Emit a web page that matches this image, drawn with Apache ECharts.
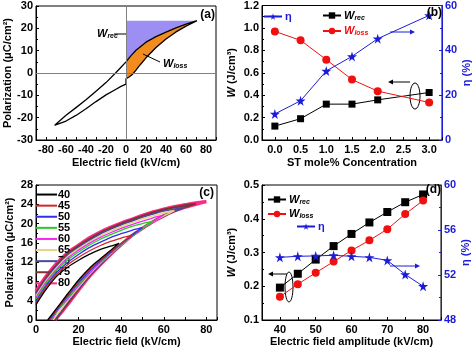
<!DOCTYPE html>
<html><head><meta charset="utf-8">
<script src="https://cdn.jsdelivr.net/npm/echarts@6/dist/echarts.min.js"></script>
<style>html,body{margin:0;padding:0;background:#fff}#c{width:474px;height:351px}</style>
</head><body><div id="c"></div>
<script>
// ---------- Panel (a): P-E loop ----------
const aUpperE = [71,60,50,40,30,20,10,5,0,-5,-10,-20,-30,-40,-50,-60,-71];
const aUpperP = [23.4,21.9,20.2,18.3,16.3,13.8,10.2,7.8,5.0,2.6,0.2,-4.3,-8.2,-12.0,-15.5,-18.9,-23.3];
const aLowerNegE = [-71,-60,-50,-40,-30,-20,-10,-5,0];
const aLowerNegP = [-23.3,-21.5,-19.0,-16.0,-12.8,-9.8,-7.3,-6.0,-5.0];
const aLowerPosE = [0,3,6,8,10,14,20,30,40,50,60,71];
const aLowerPosP = [-2.6,-1.8,-0.8,0,1.3,3.6,6.8,11.4,15.2,18.4,21.0,23.4];
const aXTicks = [-80,-60,-40,-20,0,20,40,60,80];

// ---------- Panel (b) ----------
const bX = [0,0.5,1.0,1.5,2.0,3.0];
const bWrec = [0.124,0.19,0.32,0.32,0.358,0.424];
const bWloss = [0.969,0.889,0.717,0.539,0.436,0.335];
const bEta = [11.6,17.5,30.8,37.3,45.2,55.6];

// ---------- Panel (c): unipolar loops ----------
const cAmps = ['40','45','50','55','60','65','70','75','80'];
const cUpper40 = [[0,3.2],[5,6.5],[10,9.2],[15,11.0],[20,12.4],[25,13.6],[30,14.6],[35,15.3],[39,15.9]];
const cUpper45 = [[0,3.5],[5,6.9],[10,9.6],[15,11.5],[20,13.0],[25,14.3],[30,15.4],[35,16.3],[40,17.0],[45,17.6]];
const cUpper50 = [[0,3.9],[5,7.3],[10,10.0],[15,12.0],[20,13.6],[25,15.0],[30,16.1],[35,17.1],[40,17.9],[45,18.6],[50,19.2]];
const cUpper55 = [[0,4.3],[5,7.7],[10,10.4],[15,12.5],[20,14.1],[25,15.5],[30,16.7],[35,17.7],[40,18.6],[45,19.4],[50,20.0],[55,20.5]];
const cUpper60 = [[0,4.7],[5,8.0],[10,10.7],[15,12.9],[20,14.5],[25,15.9],[30,17.1],[35,18.1],[40,19.0],[45,19.8],[50,20.5],[55,21.2],[60,21.8]];
const cUpper65 = [[0,5.0],[5,8.3],[10,11.0],[15,13.2],[20,14.8],[25,16.2],[30,17.4],[35,18.5],[40,19.4],[45,20.2],[50,21.0],[55,21.6],[60,22.2],[65,22.7]];
const cUpper70 = [[0,5.3],[5,8.6],[10,11.3],[15,13.5],[20,15.1],[25,16.5],[30,17.8],[35,18.8],[40,19.7],[45,20.5],[50,21.3],[55,22.0],[60,22.6],[65,23.0],[70,23.4]];
const cUpper75 = [[0,5.6],[5,8.9],[10,11.6],[15,13.8],[20,15.4],[25,16.8],[30,18.0],[35,19.1],[40,20.0],[45,20.8],[50,21.6],[55,22.3],[60,22.9],[65,23.4],[70,23.8],[75,24.1]];
const cUpper80 = [[0,6.0],[5,9.2],[10,11.9],[15,14.0],[20,15.5],[25,17.0],[30,18.2],[35,19.2],[40,20.1],[45,20.9],[50,21.7],[55,22.4],[60,23.0],[65,23.5],[70,23.9],[75,24.3],[80,24.55]];
const cLower40 = [[5.5,0],[10,2.6],[15,5.5],[20,8.3],[25,10.7],[30,12.6],[35,14.4],[39,15.9]];
const cLower45 = [[6,0],[10,2.4],[15,5.2],[20,8.0],[25,10.4],[30,12.4],[35,14.2],[40,15.9],[45,17.6]];
const cLower50 = [[6.5,0],[10,2.2],[15,5.0],[20,7.7],[25,10.1],[30,12.2],[35,14.0],[40,15.8],[45,17.5],[50,19.2]];
const cLower55 = [[7,0],[10,2.0],[15,4.7],[20,7.4],[25,9.9],[30,12.0],[35,13.9],[40,15.7],[45,17.4],[50,19.0],[55,20.5]];
const cLower60 = [[7.5,0],[10,1.8],[15,4.4],[20,7.1],[25,9.6],[30,11.8],[35,13.8],[40,15.7],[45,17.4],[50,19.0],[55,20.4],[60,21.8]];
const cLower65 = [[8,0],[12,2.3],[15,4.1],[20,6.8],[25,9.4],[30,11.7],[35,13.7],[40,15.6],[45,17.4],[50,19.0],[55,20.4],[60,21.6],[65,22.7]];
const cLower70 = [[8.5,0],[12,2.0],[15,3.8],[20,6.6],[25,9.2],[30,11.5],[35,13.6],[40,15.6],[45,17.4],[50,19.0],[55,20.4],[60,21.6],[65,22.6],[70,23.4]];
const cLower75 = [[9,0],[12,1.8],[15,3.5],[20,6.4],[25,9.1],[30,11.4],[35,13.6],[40,15.6],[45,17.5],[50,19.0],[55,20.4],[60,21.6],[65,22.6],[70,23.4],[75,24.1]];
const cLower80 = [[9,0],[12,1.6],[15,3.3],[20,6.2],[25,9.0],[30,11.4],[35,13.6],[40,15.6],[45,17.5],[50,19.0],[55,20.4],[60,21.6],[65,22.6],[70,23.4],[75,24.0],[80,24.55]];
const cUppers = [cUpper40,cUpper45,cUpper50,cUpper55,cUpper60,cUpper65,cUpper70,cUpper75,cUpper80];
const cLowers = [cLower40,cLower45,cLower50,cLower55,cLower60,cLower65,cLower70,cLower75,cLower80];

// ---------- Panel (d) ----------
const dX = [40,45,50,55,60,65,70,75,80];
const dWrec = [0.196,0.237,0.279,0.319,0.355,0.389,0.42,0.449,0.472];
const dWloss = [0.169,0.206,0.240,0.273,0.306,0.336,0.369,0.414,0.454];
const dEta = [53.57,53.66,53.7,53.75,53.66,53.57,53.3,52.05,51.0];

// ---------- styles ----------
const FONT = '"Liberation Sans", Arial, sans-serif';
const BLUE = '#1c1cd8';
const RED = '#f01010';
const cColors = ['#000000','#d02828','#3030f0','#28c828','#f028f0','#e6d48a','#4a4a9a','#7a3434','#ff2a84'];
const cWidths = [1.3,1.3,1.3,1.3,1.3,1.5,1.6,2.0,3.4];
const STAR = 'path://M50,0 L61,35 L98,35 L68,57 L79,91 L50,70 L21,91 L32,57 L2,35 L39,35 Z';
const lbl = {fontFamily: FONT, fontWeight: 'bold', fontSize: 11, color: '#000'};
const richW = {
  i: {fontFamily: FONT, fontWeight: 'bold', fontStyle: 'italic', fontSize: 11},
  s: {fontFamily: FONT, fontWeight: 'bold', fontStyle: 'italic', fontSize: 7, padding: [5,0,0,0]}
};

function xAx(grid, min, max, interval, fmt, name, gap) {
  return {type:'value', gridIndex:grid, min, max, interval,
    name, nameLocation:'middle', nameGap:gap,
    nameTextStyle:{fontFamily:FONT, fontWeight:'bold', fontSize:11, color:'#000'},
    axisLine:{onZero:false, lineStyle:{color:'#000', width:1}},
    axisTick:{inside:true, length:3, lineStyle:{color:'#000'}},
    axisLabel:Object.assign({margin:4, formatter:fmt}, lbl),
    splitLine:{show:false}};
}
function yAx(grid, min, max, interval, fmt, name, gap, pos, color) {
  color = color || '#000';
  return {type:'value', gridIndex:grid, min, max, interval, position:pos||'left',
    name, nameLocation:'middle', nameGap:gap,
    nameTextStyle:{fontFamily:FONT, fontWeight:'bold', fontSize:11, color, rich:{i:Object.assign({color}, richW.i)}},
    axisLine:{show:true, onZero:false, lineStyle:{color, width:1}},
    axisTick:{show:true, inside:true, length:3, lineStyle:{color}},
    minorTick:{show:true, splitNumber:2, length:2, lineStyle:{color}},
    axisLabel:Object.assign({margin:3, formatter:fmt}, lbl, {color}),
    splitLine:{show:false}};
}
const every = (step) => (v) => (Math.abs(v/step - Math.round(v/step)) < 1e-6 ? String(Math.round(v)) : '');

const gridBase = {show:true, borderColor:'#000', borderWidth:1, backgroundColor:'transparent', containLabel:false};

// (a) polygons from data
const aPosUpperIdx = aUpperE.map((e,i)=>i).filter(i=>aUpperE[i]>=0);
const aPurple = aPosUpperIdx.map(i=>[aUpperE[i], aUpperP[i]]).concat([[0, aUpperP[0]]]);
const aOrange = aLowerPosE.map((e,i)=>[e, aLowerPosP[i]]).concat(aPosUpperIdx.map(i=>[aUpperE[i], aUpperP[i]]));
const aLoop = aUpperE.map((e,i)=>[e, aUpperP[i]])
  .concat(aLowerNegE.map((e,i)=>[e, aLowerNegP[i]]))
  .concat(aLowerPosE.map((e,i)=>[e, aLowerPosP[i]]));

function polySeries(pts, color, z) {
  return {type:'custom', xAxisIndex:0, yAxisIndex:0, z, silent:true, data:[[0,0]],
    renderItem:(params, api) => ({type:'polygon', shape:{points: pts.map(p=>api.coord(p))}, style:{fill:color}})};
}

const series = [
  polySeries(aPurple, '#9c8ef2', 1),
  polySeries(aOrange, '#f28c1e', 1),
  {type:'line', name:'loopA', xAxisIndex:0, yAxisIndex:0, data:aLoop, symbol:'none', smooth:false, z:3,
   lineStyle:{color:'#000', width:1.3, join:'round'},
   markLine:{silent:true, symbol:'none', label:{show:false}, lineStyle:{color:'#808080', type:'solid', width:1},
     data:[{xAxis:0},{yAxis:0}]}},
  // (b)
  {type:'line', name:'Wrec_b', xAxisIndex:1, yAxisIndex:1, data:bX.map((x,i)=>[x,bWrec[i]]),
   symbol:'rect', symbolSize:7, lineStyle:{color:'#000', width:1}, itemStyle:{color:'#000'}},
  {type:'line', name:'Wloss_b', xAxisIndex:1, yAxisIndex:1, data:bX.map((x,i)=>[x,bWloss[i]]),
   symbol:'circle', symbolSize:8, lineStyle:{color:RED, width:1}, itemStyle:{color:RED}},
  {type:'line', name:'eta_b', xAxisIndex:1, yAxisIndex:2, data:bX.map((x,i)=>[x,bEta[i]]),
   symbol:STAR, symbolSize:10, lineStyle:{color:BLUE, width:1}, itemStyle:{color:BLUE}},
];
// (c) loops, draw largest first
for (let k = cAmps.length-1; k >= 0; k--) {
  series.push({type:'line', name:cAmps[k], xAxisIndex:2, yAxisIndex:3,
    data: cUppers[k].concat(cLowers[k].slice().reverse()),
    symbol:'none', smooth:0.3, z:2+(cAmps.length-k),
    lineStyle:{color:cColors[k], width:cWidths[k]}, itemStyle:{color:cColors[k]}});
}
// (d)
series.push(
  {type:'line', name:'Wrec_d', xAxisIndex:3, yAxisIndex:4, data:dX.map((x,i)=>[x,dWrec[i]]),
   symbol:'rect', symbolSize:8, lineStyle:{color:'#000', width:1}, itemStyle:{color:'#000'}},
  {type:'line', name:'Wloss_d', xAxisIndex:3, yAxisIndex:4, data:dX.map((x,i)=>[x,dWloss[i]]),
   symbol:'circle', symbolSize:8, lineStyle:{color:RED, width:1}, itemStyle:{color:RED}},
  {type:'line', name:'eta_d', xAxisIndex:3, yAxisIndex:5, data:dX.map((x,i)=>[x,dEta[i]]),
   symbol:STAR, symbolSize:10, lineStyle:{color:BLUE, width:1}, itemStyle:{color:BLUE}}
);

const legendNames = {
  Wrec_b:'{i|W}{s|rec}', Wloss_b:'{ir|W}{sr|loss}', eta_b:'{e|η}',
  Wrec_d:'{i|W}{s|rec}', Wloss_d:'{i|W}{s|loss}', eta_d:'{e|η}'
};
const legRich = {
  i: richW.i, s: richW.s,
  ir: Object.assign({}, richW.i, {color:RED}), sr: Object.assign({}, richW.s, {color:RED}),
  e: {fontFamily:FONT, fontSize:11, color:BLUE}
};
function legendW(data, left, top, gap) {
  return {data, left, top, orient:'vertical', itemWidth:18, itemHeight:8, itemGap:gap, padding:0,
    selectedMode:false, formatter:(n)=>legendNames[n],
    textStyle:{fontFamily:FONT, fontWeight:'bold', fontSize:11, color:'#000', rich:legRich, padding:[0,0,0,-2]}};
}

function arrow(x1, y1, x2, y2, color) {
  const dx = x2-x1, dy = y2-y1, L = Math.hypot(dx,dy), ux = dx/L, uy = dy/L, hl = 5, hw = 2.5;
  return [
    {type:'line', shape:{x1, y1, x2:x2-ux*hl*0.8, y2:y2-uy*hl*0.8}, style:{stroke:color, lineWidth:1}},
    {type:'polygon', shape:{points:[[x2,y2],[x2-ux*hl-uy*hw, y2-uy*hl+ux*hw],[x2-ux*hl+uy*hw, y2-uy*hl-ux*hw]]}, style:{fill:color}}
  ];
}
const txt = (x, y, text, align, size) => ({type:'text', x, y, z:50,
  style:{text, textAlign:align||'left', textVerticalAlign:'middle', font:'bold '+(size||12)+'px '+FONT, fill:'#000', rich:legRich}});

const graphic = [].concat(
  txt(215, 15, '(a)', 'right'), txt(442, 13, '(b)', 'right'), txt(214, 193, '(c)', 'right'), txt(441, 190, '(d)', 'right'),
  txt(97, 34, '{i|W}{s|rec}', 'left'),
  arrow(114, 34, 137, 34, '#000'),
  txt(163, 64, '{i|W}{s|loss}', 'left'),
  [{type:'line', shape:{x1:160, y1:62, x2:143, y2:54}, style:{stroke:'#000', lineWidth:1}, z:50}],
  arrow(390, 32, 415, 32, BLUE),
  arrow(410, 82, 388, 82, '#000'),
  [{type:'ellipse', shape:{cx:415, cy:96, rx:5, ry:13}, style:{stroke:'#000', fill:'none', lineWidth:1}}],
  arrow(390, 266, 420, 266, BLUE),
  arrow(287, 274, 268, 274, '#000'),
  [{type:'ellipse', shape:{cx:289, cy:287, rx:4, ry:15}, style:{stroke:'#000', fill:'none', lineWidth:1}}]
);

const option = {
  animation:false,
  grid:[
    Object.assign({left:36, top:6, width:180, height:134}, gridBase),
    Object.assign({left:262, top:5, width:180, height:135}, gridBase),
    Object.assign({left:36, top:185, width:181, height:135}, gridBase),
    Object.assign({left:262, top:185, width:179, height:135}, gridBase)
  ],
  xAxis:[
    xAx(0, -90, 90, 10, (v)=>aXTicks.indexOf(Math.round(v))>=0 && Math.abs(v-Math.round(v))<1e-6 ? String(Math.round(v)) : '', 'Electric field (kV/cm)', 17),
    xAx(1, -0.25, 3.25, 0.25, (v)=>(Math.abs(v*2-Math.round(v*2))<1e-6 ? v.toFixed(1) : ''), 'ST mole% Concentration', 17),
    xAx(2, 0, 85, 10, every(20), 'Electric field (kV/cm)', 16),
    xAx(3, 35, 85, 5, every(10), 'Electric field amplitude (kV/cm)', 16)
  ],
  yAxis:[
    yAx(0, -30, 30, 10, (v)=>String(Math.round(v)), 'Polarization (μC/cm²)', 21),
    yAx(1, 0, 1.2, 0.2, (v)=>v.toFixed(1), '{i|W} (J/cm³)', 25),
    yAx(1, 0, 60, 20, (v)=>String(Math.round(v)), 'η (%)', 19, 'right', BLUE),
    yAx(2, 0, 28, 4, (v)=>String(Math.round(v)), 'Polarization (μC/cm²)', 21),
    yAx(3, 0.1, 0.5, 0.1, (v)=>v.toFixed(1), '{i|W} (J/cm³)', 25),
    yAx(3, 48, 60, 4, (v)=>String(Math.round(v)), 'η (%)', 19, 'right', BLUE)
  ],
  legend:[
    legendW(['eta_b'], 263, 11, 4),
    legendW(['Wrec_b','Wloss_b'], 322, 10, 4),
    {data:cAmps, left:36, top:189, orient:'vertical', itemWidth:21, itemHeight:2, itemGap:0, padding:0, icon:'rect',
     selectedMode:false, textStyle:{fontFamily:FONT, fontWeight:'bold', fontSize:11, lineHeight:11.1, color:'#000', padding:[0,0,0,-4]}},
    legendW(['Wrec_d','Wloss_d'], 267, 194, 3),
    legendW(['eta_d'], 296, 221, 4)
  ],
  graphic,
  series
};
const chart = echarts.init(document.getElementById('c'), null, {renderer:'canvas'});
chart.setOption(option);
</script></body></html>
